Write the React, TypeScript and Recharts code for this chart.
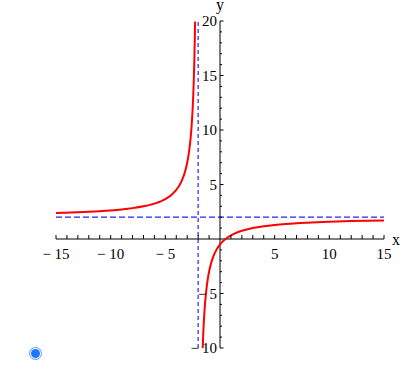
import { LineChart, Line, XAxis, YAxis, ReferenceLine, ReferenceDot } from 'recharts';

// left branch (x < -2)
const leftX = [-15, -14, -13, -12, -11, -10, -9, -8, -7, -6, -5, -4.5, -4, -3.5, -3.2, -3, -2.8, -2.7, -2.6, -2.5, -2.45, -2.4, -2.35, -2.3, -2.28];
const leftY = [2.385, 2.417, 2.455, 2.5, 2.556, 2.625, 2.714, 2.833, 3.0, 3.25, 3.667, 4.0, 4.5, 5.333, 6.167, 7.0, 8.25, 9.143, 10.333, 12.0, 13.111, 14.5, 16.286, 18.667, 19.95];

// right branch (x > -2)
const rightX = [-1.583, -1.55, -1.5, -1.4, -1.3, -1.2, -1.1, -1, -0.8, -0.65, -0.5, 0, 0.5, 1, 1.5, 2, 3, 4, 5, 6, 7, 8, 10, 12, 15];
const rightY = [-10, -9.11, -8, -6.333, -5.143, -4.25, -3.556, -3, -2.167, -1.704, -1.333, -0.5, 0, 0.333, 0.571, 0.75, 1, 1.167, 1.286, 1.375, 1.444, 1.5, 1.583, 1.643, 1.706];

// asymptotes
const vAsymptote = -2;
const hAsymptote = 2;

const xTicks = [-15, -14, -13, -12, -11, -10, -9, -8, -7, -6, -5, -4, -3, -2, -1, 1, 2, 3, 4, 5, 6, 7, 8, 9, 10, 11, 12, 13, 14, 15];
const yTicks = [-10, -9, -8, -7, -6, -5, -4, -3, -2, -1, 1, 2, 3, 4, 5, 6, 7, 8, 9, 10, 11, 12, 13, 14, 15, 16, 17, 18, 19, 20];
const xLabels = [-15, -10, -5, 5, 10, 15];
const yLabels = [-10, -5, 5, 10, 15, 20];

const leftData = leftX.map((x, i) => ({ x, y: leftY[i] }));
const rightData = rightX.map((x, i) => ({ x, y: rightY[i] }));

const FONT = '"Liberation Serif", "Times New Roman", serif';
const fmt = (v: number, gap: string) => (v < 0 ? `\u2212${gap}${Math.abs(v)}` : `${v}`);

const App = () => {
  return (
    <div style={{ position: 'absolute', left: 0, top: 0, width: 417, height: 369, background: '#fff' }}>
      <LineChart width={417} height={369} margin={{ top: 21, right: 33, bottom: 21, left: 56 }}>
        <XAxis type="number" dataKey="x" domain={[-15, 15]} hide allowDataOverflow />
        <YAxis type="number" dataKey="y" domain={[-10, 20]} hide allowDataOverflow />

        {/* asymptotes */}
        <ReferenceLine x={vAsymptote} stroke="#2222ff" strokeDasharray="4 3" strokeWidth={1.2} />
        <ReferenceLine y={hAsymptote} stroke="#2222ff" strokeDasharray="6 3" strokeWidth={1.2} />

        {/* axes */}
        <ReferenceLine y={0} stroke="#000" strokeWidth={1} />
        <ReferenceLine x={0} stroke="#000" strokeWidth={1} />

        {xTicks.map((t) => (
          <ReferenceDot
            key={`xt${t}`}
            x={t}
            y={0}
            r={1}
            ifOverflow="visible"
            shape={(p: any) => <line x1={p.cx} y1={p.cy} x2={p.cx} y2={p.cy - 4} stroke="#000" strokeWidth={1} />}
          />
        ))}
        {yTicks.map((t) => (
          <ReferenceDot
            key={`yt${t}`}
            x={0}
            y={t}
            r={1}
            ifOverflow="visible"
            shape={(p: any) => (
              <line x1={p.cx} y1={p.cy} x2={p.cx + (t % 5 === 0 ? 3.5 : 2)} y2={p.cy} stroke="#000" strokeWidth={1} />
            )}
          />
        ))}
        {xLabels.map((t) => (
          <ReferenceDot
            key={`xl${t}`}
            x={t}
            y={0}
            r={1}
            ifOverflow="visible"
            shape={(p: any) => (
              <text x={p.cx} y={p.cy + 20} textAnchor="middle" fontFamily={FONT} fontSize={15} fill="#000" style={{ whiteSpace: 'pre' }}>
                {fmt(t, ' ')}
              </text>
            )}
          />
        ))}
        {yLabels.map((t) => (
          <ReferenceDot
            key={`yl${t}`}
            x={0}
            y={t}
            r={1}
            ifOverflow="visible"
            shape={(p: any) => (
              <text x={p.cx - 3} y={p.cy + 5} textAnchor="end" fontFamily={FONT} fontSize={15} fill="#000">
                {fmt(t, '\u2009')}
              </text>
            )}
          />
        ))}
        <ReferenceDot
          x={15}
          y={0}
          r={1}
          ifOverflow="visible"
          shape={(p: any) => (
            <text x={p.cx + 12} y={p.cy + 6} textAnchor="middle" fontFamily={FONT} fontSize={16} fill="#000">x</text>
          )}
        />
        <ReferenceDot
          x={0}
          y={20}
          r={1}
          ifOverflow="visible"
          shape={(p: any) => (
            <text x={p.cx} y={p.cy - 11} textAnchor="middle" fontFamily={FONT} fontSize={16} fill="#000">y</text>
          )}
        />

        <Line data={leftData} dataKey="y" type="monotone" stroke="#ff0000" strokeWidth={2} dot={false} isAnimationActive={false} />
        <Line data={rightData} dataKey="y" type="monotone" stroke="#ff0000" strokeWidth={2} dot={false} isAnimationActive={false} />
      </LineChart>
      <div
        style={{
          position: 'absolute',
          left: 29,
          top: 347,
          width: 11,
          height: 11,
          borderRadius: '50%',
          border: '1px solid #4f9bff',
          display: 'flex',
          alignItems: 'center',
          justifyContent: 'center',
        }}
      >
        <div style={{ width: 9, height: 9, borderRadius: '50%', background: '#1a78ff' }} />
      </div>
    </div>
  );
};

export default App;
